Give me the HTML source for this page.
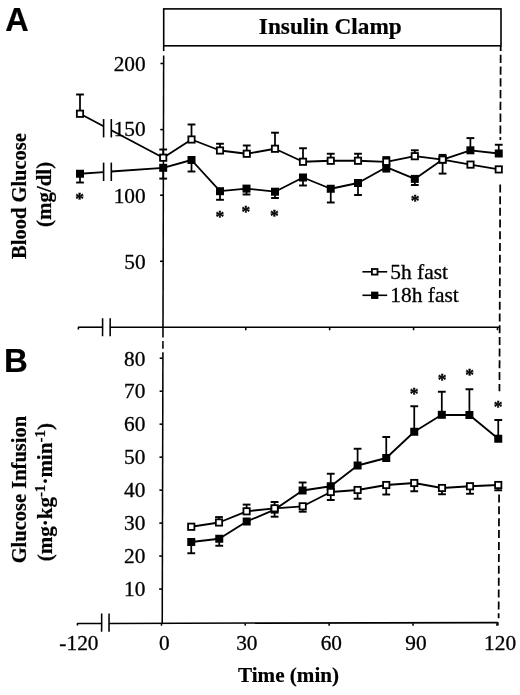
<!DOCTYPE html>
<html><head><meta charset="utf-8"><title>Insulin Clamp</title>
<style>
html,body{margin:0;padding:0;background:#fff;}
body{width:520px;height:695px;overflow:hidden;}
svg{display:block;}
</style></head><body>
<svg width="520" height="695" viewBox="0 0 520 695" stroke="#000" fill="none" stroke-linecap="butt">
<rect x="0" y="0" width="520" height="695" fill="#fff" stroke="none"/>
<rect x="163.7" y="8.9" width="337.3" height="36.9" fill="none" stroke-width="1.6"/>
<text transform="translate(330.3,33.9) scale(1.03,1)" font-size="22.6" text-anchor="middle" font-weight="bold" font-family='"Liberation Serif", serif' stroke="#000" stroke-width="0.2" fill="#000">Insulin Clamp</text>
<text transform="translate(5.3,31) scale(1,1)" font-size="32.5" text-anchor="start" font-weight="bold" font-family='"Liberation Sans", sans-serif' stroke="#000" stroke-width="0.2" fill="#000">A</text>
<text transform="translate(4.1,372.3) scale(1,1)" font-size="33" text-anchor="start" font-weight="bold" font-family='"Liberation Sans", sans-serif' stroke="#000" stroke-width="0.2" fill="#000">B</text>
<line x1="163.69" y1="46" x2="163.67" y2="51" stroke-width="1.55"/>
<line x1="163.66" y1="55.5" x2="162.98" y2="327.3" stroke-width="1.55"/>
<line x1="160.44" y1="63.5" x2="163.64" y2="63.5" stroke-width="1.55"/>
<text transform="translate(145.6,71.2) scale(1.04,1)" font-size="20.5" text-anchor="end" font-weight="normal" font-family='"Liberation Serif", serif' stroke="#000" stroke-width="0.3" fill="#000">200</text>
<line x1="160.28" y1="129.6" x2="163.48" y2="129.6" stroke-width="1.55"/>
<text transform="translate(145.6,136.3) scale(1.04,1)" font-size="20.5" text-anchor="end" font-weight="normal" font-family='"Liberation Serif", serif' stroke="#000" stroke-width="0.3" fill="#000">150</text>
<line x1="160.11" y1="195.2" x2="163.31" y2="195.2" stroke-width="1.55"/>
<text transform="translate(145.6,203.4) scale(1.04,1)" font-size="20.5" text-anchor="end" font-weight="normal" font-family='"Liberation Serif", serif' stroke="#000" stroke-width="0.3" fill="#000">100</text>
<line x1="159.95" y1="261.3" x2="163.15" y2="261.3" stroke-width="1.55"/>
<text transform="translate(145.6,268.8) scale(1.04,1)" font-size="20.5" text-anchor="end" font-weight="normal" font-family='"Liberation Serif", serif' stroke="#000" stroke-width="0.3" fill="#000">50</text>
<line x1="78.08" y1="327.2" x2="102.58" y2="327.2" stroke-width="1.55"/>
<line x1="110.18" y1="327.2" x2="499.18" y2="327.2" stroke-width="1.55"/>
<line x1="78.38" y1="327.2" x2="78.38" y2="329.5" stroke-width="1.55"/>
<line x1="102.6" y1="318.3" x2="102.56" y2="336.3" stroke-width="1.55"/>
<line x1="110.2" y1="318.3" x2="110.16" y2="336.3" stroke-width="1.55"/>
<line x1="245.78" y1="327.2" x2="245.77" y2="330.2" stroke-width="1.55"/>
<line x1="329.68" y1="327.2" x2="329.67" y2="330.2" stroke-width="1.55"/>
<line x1="413.58" y1="327.2" x2="413.57" y2="330.2" stroke-width="1.55"/>
<line x1="497.48" y1="327.2" x2="497.47" y2="330.2" stroke-width="1.55"/>
<line x1="162.98" y1="327.3" x2="162.96" y2="337.5" stroke-width="1.55"/>
<line x1="162.95" y1="341" x2="162.93" y2="348.7" stroke-width="1.55"/>
<line x1="162.92" y1="352.3" x2="162.24" y2="623.3" stroke-width="1.55"/>
<line x1="159.7" y1="358.2" x2="162.9" y2="358.2" stroke-width="1.55"/>
<text transform="translate(145.4,365.5) scale(1.04,1)" font-size="20.5" text-anchor="end" font-weight="normal" font-family='"Liberation Serif", serif' stroke="#000" stroke-width="0.3" fill="#000">80</text>
<line x1="159.62" y1="391.18" x2="162.82" y2="391.18" stroke-width="1.55"/>
<text transform="translate(145.4,398.48) scale(1.04,1)" font-size="20.5" text-anchor="end" font-weight="normal" font-family='"Liberation Serif", serif' stroke="#000" stroke-width="0.3" fill="#000">70</text>
<line x1="159.54" y1="424.16" x2="162.74" y2="424.16" stroke-width="1.55"/>
<text transform="translate(145.4,431.46) scale(1.04,1)" font-size="20.5" text-anchor="end" font-weight="normal" font-family='"Liberation Serif", serif' stroke="#000" stroke-width="0.3" fill="#000">60</text>
<line x1="159.46" y1="457.14" x2="162.66" y2="457.14" stroke-width="1.55"/>
<text transform="translate(145.4,464.44) scale(1.04,1)" font-size="20.5" text-anchor="end" font-weight="normal" font-family='"Liberation Serif", serif' stroke="#000" stroke-width="0.3" fill="#000">50</text>
<line x1="159.37" y1="490.12" x2="162.57" y2="490.12" stroke-width="1.55"/>
<text transform="translate(145.4,497.42) scale(1.04,1)" font-size="20.5" text-anchor="end" font-weight="normal" font-family='"Liberation Serif", serif' stroke="#000" stroke-width="0.3" fill="#000">40</text>
<line x1="159.29" y1="523.1" x2="162.49" y2="523.1" stroke-width="1.55"/>
<text transform="translate(145.4,530.4) scale(1.04,1)" font-size="20.5" text-anchor="end" font-weight="normal" font-family='"Liberation Serif", serif' stroke="#000" stroke-width="0.3" fill="#000">30</text>
<line x1="159.21" y1="556.08" x2="162.41" y2="556.08" stroke-width="1.55"/>
<text transform="translate(145.4,563.38) scale(1.04,1)" font-size="20.5" text-anchor="end" font-weight="normal" font-family='"Liberation Serif", serif' stroke="#000" stroke-width="0.3" fill="#000">20</text>
<line x1="159.13" y1="589.06" x2="162.33" y2="589.06" stroke-width="1.55"/>
<text transform="translate(145.4,596.36) scale(1.04,1)" font-size="20.5" text-anchor="end" font-weight="normal" font-family='"Liberation Serif", serif' stroke="#000" stroke-width="0.3" fill="#000">10</text>
<line x1="77.14" y1="623.5" x2="101.64" y2="623.4" stroke-width="1.55"/>
<line x1="109.04" y1="623.4" x2="497.84" y2="622.6" stroke-width="1.55"/>
<line x1="77.44" y1="623.2" x2="77.44" y2="625.5" stroke-width="1.55"/>
<line x1="101.67" y1="613.5" x2="101.62" y2="631.7" stroke-width="1.55"/>
<line x1="109.07" y1="613.5" x2="109.02" y2="631.7" stroke-width="1.55"/>
<line x1="161.49" y1="623.2" x2="161.49" y2="625.7" stroke-width="1.55"/>
<line x1="245.24" y1="623.2" x2="245.24" y2="625.7" stroke-width="1.55"/>
<line x1="329.14" y1="623.2" x2="329.14" y2="625.7" stroke-width="1.55"/>
<line x1="413.04" y1="623.2" x2="413.04" y2="625.7" stroke-width="1.55"/>
<line x1="496.94" y1="623.2" x2="496.94" y2="625.7" stroke-width="1.55"/>
<text transform="translate(78.9,650.3) scale(1.04,1)" font-size="20.5" text-anchor="middle" font-weight="normal" font-family='"Liberation Serif", serif' stroke="#000" stroke-width="0.3" fill="#000">-120</text>
<text transform="translate(164.3,650.3) scale(1.04,1)" font-size="20.5" text-anchor="middle" font-weight="normal" font-family='"Liberation Serif", serif' stroke="#000" stroke-width="0.3" fill="#000">0</text>
<text transform="translate(246.8,650.3) scale(1.04,1)" font-size="20.5" text-anchor="middle" font-weight="normal" font-family='"Liberation Serif", serif' stroke="#000" stroke-width="0.3" fill="#000">30</text>
<text transform="translate(331.3,650.3) scale(1.04,1)" font-size="20.5" text-anchor="middle" font-weight="normal" font-family='"Liberation Serif", serif' stroke="#000" stroke-width="0.3" fill="#000">60</text>
<text transform="translate(415.9,650.3) scale(1.04,1)" font-size="20.5" text-anchor="middle" font-weight="normal" font-family='"Liberation Serif", serif' stroke="#000" stroke-width="0.3" fill="#000">90</text>
<text transform="translate(500.1,650.3) scale(1.04,1)" font-size="20.5" text-anchor="middle" font-weight="normal" font-family='"Liberation Serif", serif' stroke="#000" stroke-width="0.3" fill="#000">120</text>
<text transform="translate(288.5,682) scale(1.03,1)" font-size="20.5" text-anchor="middle" font-weight="bold" font-family='"Liberation Serif", serif' stroke="#000" stroke-width="0.2" fill="#000">Time (min)</text>
<text transform="translate(26.2,196) rotate(-90)" font-size="20.5" text-anchor="middle" font-weight="bold" font-family='"Liberation Serif", serif' stroke="#000" stroke-width="0.2" fill="#000">Blood Glucose</text>
<text transform="translate(51.3,194.4) rotate(-90)" font-size="20.9" text-anchor="middle" font-weight="bold" font-family='"Liberation Serif", serif' stroke="#000" stroke-width="0.2" fill="#000">(mg/dl)</text>
<text transform="translate(25.7,489.6) rotate(-90)" font-size="20.5" text-anchor="middle" font-weight="bold" font-family='"Liberation Serif", serif' stroke="#000" stroke-width="0.2" fill="#000">Glucose Infusion</text>
<text transform="translate(52.3,492.2) rotate(-90)" font-size="21" text-anchor="middle" font-weight="bold" font-family='"Liberation Serif", serif' stroke="#000" stroke-width="0.2" fill="#000">(mg·kg<tspan font-size="15" dy="-7.3">-1</tspan><tspan dy="7.3">·min</tspan><tspan font-size="15" dy="-7.3">-1</tspan><tspan dy="7.3">)</tspan></text>
<line x1="500.68" y1="46" x2="500.67" y2="51" stroke-width="1.75"/>
<line x1="500.65" y1="54.7" x2="500.62" y2="63" stroke-width="1.75"/>
<line x1="500.61" y1="66.48" x2="500.58" y2="74.78" stroke-width="1.75"/>
<line x1="500.57" y1="78.26" x2="500.54" y2="86.56" stroke-width="1.75"/>
<line x1="500.53" y1="90.04" x2="500.5" y2="98.34" stroke-width="1.75"/>
<line x1="500.48" y1="101.82" x2="500.45" y2="110.12" stroke-width="1.75"/>
<line x1="500.44" y1="113.6" x2="500.41" y2="121.9" stroke-width="1.75"/>
<line x1="500.4" y1="125.38" x2="500.37" y2="133.68" stroke-width="1.75"/>
<line x1="500.36" y1="136.9" x2="500.35" y2="140" stroke-width="1.75"/>
<line x1="500.19" y1="184.4" x2="500.16" y2="192.4" stroke-width="1.75"/>
<line x1="500.14" y1="196.13" x2="500.12" y2="204.13" stroke-width="1.75"/>
<line x1="500.1" y1="207.86" x2="500.07" y2="215.86" stroke-width="1.75"/>
<line x1="500.06" y1="219.59" x2="500.03" y2="227.59" stroke-width="1.75"/>
<line x1="500.02" y1="231.32" x2="499.99" y2="239.32" stroke-width="1.75"/>
<line x1="499.98" y1="243.05" x2="499.95" y2="251.05" stroke-width="1.75"/>
<line x1="499.93" y1="254.78" x2="499.9" y2="262.78" stroke-width="1.75"/>
<line x1="499.89" y1="266.51" x2="499.86" y2="274.51" stroke-width="1.75"/>
<line x1="499.85" y1="278.24" x2="499.82" y2="286.24" stroke-width="1.75"/>
<line x1="499.81" y1="289.97" x2="499.78" y2="297.97" stroke-width="1.75"/>
<line x1="499.76" y1="301.7" x2="499.74" y2="309.7" stroke-width="1.75"/>
<line x1="499.72" y1="313.43" x2="499.69" y2="321.43" stroke-width="1.75"/>
<line x1="499.68" y1="325.16" x2="499.65" y2="333.16" stroke-width="1.75"/>
<line x1="499.64" y1="336.89" x2="499.61" y2="344.89" stroke-width="1.75"/>
<line x1="499.59" y1="348.62" x2="499.57" y2="356.62" stroke-width="1.75"/>
<line x1="499.55" y1="360.35" x2="499.52" y2="368.35" stroke-width="1.75"/>
<line x1="499.51" y1="372.08" x2="499.48" y2="380.08" stroke-width="1.75"/>
<line x1="499.47" y1="383.9" x2="499.44" y2="391.3" stroke-width="1.75"/>
<line x1="499.07" y1="494.4" x2="499.04" y2="502.4" stroke-width="1.75"/>
<line x1="499.03" y1="506.3" x2="499" y2="514.3" stroke-width="1.75"/>
<line x1="498.98" y1="518.2" x2="498.96" y2="526.2" stroke-width="1.75"/>
<line x1="498.94" y1="530.1" x2="498.91" y2="538.1" stroke-width="1.75"/>
<line x1="498.9" y1="542" x2="498.87" y2="550" stroke-width="1.75"/>
<line x1="498.86" y1="553.9" x2="498.83" y2="561.9" stroke-width="1.75"/>
<line x1="498.81" y1="565.8" x2="498.78" y2="573.8" stroke-width="1.75"/>
<line x1="498.77" y1="577.7" x2="498.74" y2="585.7" stroke-width="1.75"/>
<line x1="498.73" y1="589.6" x2="498.7" y2="597.6" stroke-width="1.75"/>
<line x1="498.68" y1="601.5" x2="498.66" y2="609.5" stroke-width="1.75"/>
<line x1="498.64" y1="613.3" x2="498.62" y2="618.3" stroke-width="1.75"/>
<line x1="498.01" y1="622.3" x2="498.01" y2="625.5" stroke-width="1.5"/>
<line x1="80" y1="173.75" x2="80" y2="182.5" stroke-width="1.75"/>
<line x1="76.1" y1="182.5" x2="83.9" y2="182.5" stroke-width="1.95"/>
<line x1="163.2" y1="167.8" x2="163.2" y2="178.6" stroke-width="1.75"/>
<line x1="159.3" y1="178.6" x2="167.1" y2="178.6" stroke-width="1.95"/>
<line x1="191.5" y1="160" x2="191.5" y2="171.5" stroke-width="1.75"/>
<line x1="187.6" y1="171.5" x2="195.4" y2="171.5" stroke-width="1.95"/>
<line x1="220" y1="191.2" x2="220" y2="199.8" stroke-width="1.75"/>
<line x1="216.1" y1="199.8" x2="223.9" y2="199.8" stroke-width="1.95"/>
<line x1="246.5" y1="188.6" x2="246.5" y2="194.5" stroke-width="1.75"/>
<line x1="242.6" y1="194.5" x2="250.4" y2="194.5" stroke-width="1.95"/>
<line x1="275" y1="191.7" x2="275" y2="198" stroke-width="1.75"/>
<line x1="271.1" y1="198" x2="278.9" y2="198" stroke-width="1.95"/>
<line x1="303" y1="177.5" x2="303" y2="185.5" stroke-width="1.75"/>
<line x1="299.1" y1="185.5" x2="306.9" y2="185.5" stroke-width="1.95"/>
<line x1="330.75" y1="188.75" x2="330.75" y2="202.5" stroke-width="1.75"/>
<line x1="326.85" y1="202.5" x2="334.65" y2="202.5" stroke-width="1.95"/>
<line x1="358" y1="183" x2="358" y2="195" stroke-width="1.75"/>
<line x1="354.1" y1="195" x2="361.9" y2="195" stroke-width="1.95"/>
<line x1="386.3" y1="167.2" x2="386.3" y2="171.6" stroke-width="1.75"/>
<line x1="382.4" y1="171.6" x2="390.2" y2="171.6" stroke-width="1.95"/>
<line x1="414.8" y1="178.9" x2="414.8" y2="185" stroke-width="1.75"/>
<line x1="410.9" y1="185" x2="418.7" y2="185" stroke-width="1.95"/>
<line x1="442.6" y1="159.6" x2="442.6" y2="173.6" stroke-width="1.75"/>
<line x1="438.7" y1="173.6" x2="446.5" y2="173.6" stroke-width="1.95"/>
<line x1="470.4" y1="150.3" x2="470.4" y2="138.1" stroke-width="1.75"/>
<line x1="466.5" y1="138.1" x2="474.3" y2="138.1" stroke-width="1.95"/>
<line x1="498.75" y1="153.5" x2="498.75" y2="144.75" stroke-width="1.75"/>
<line x1="494.85" y1="144.75" x2="502.65" y2="144.75" stroke-width="1.95"/>
<line x1="80" y1="113.75" x2="80" y2="94.5" stroke-width="1.75"/>
<line x1="76.1" y1="94.5" x2="83.9" y2="94.5" stroke-width="1.95"/>
<line x1="163.2" y1="157.7" x2="163.2" y2="149.5" stroke-width="1.75"/>
<line x1="159.3" y1="149.5" x2="167.1" y2="149.5" stroke-width="1.95"/>
<line x1="191.5" y1="139.5" x2="191.5" y2="124.5" stroke-width="1.75"/>
<line x1="187.6" y1="124.5" x2="195.4" y2="124.5" stroke-width="1.95"/>
<line x1="220" y1="150.5" x2="220" y2="143.75" stroke-width="1.75"/>
<line x1="216.1" y1="143.75" x2="223.9" y2="143.75" stroke-width="1.95"/>
<line x1="246.75" y1="153.75" x2="246.75" y2="145.5" stroke-width="1.75"/>
<line x1="242.85" y1="145.5" x2="250.65" y2="145.5" stroke-width="1.95"/>
<line x1="275" y1="148.75" x2="275" y2="132.7" stroke-width="1.75"/>
<line x1="271.1" y1="132.7" x2="278.9" y2="132.7" stroke-width="1.95"/>
<line x1="303" y1="161.75" x2="303" y2="148.25" stroke-width="1.75"/>
<line x1="299.1" y1="148.25" x2="306.9" y2="148.25" stroke-width="1.95"/>
<line x1="330.75" y1="160.75" x2="330.75" y2="153.75" stroke-width="1.75"/>
<line x1="326.85" y1="153.75" x2="334.65" y2="153.75" stroke-width="1.95"/>
<line x1="358" y1="160.75" x2="358" y2="153.75" stroke-width="1.75"/>
<line x1="354.1" y1="153.75" x2="361.9" y2="153.75" stroke-width="1.95"/>
<line x1="386.3" y1="161.8" x2="386.3" y2="157.1" stroke-width="1.75"/>
<line x1="382.4" y1="157.1" x2="390.2" y2="157.1" stroke-width="1.95"/>
<line x1="414.8" y1="156.2" x2="414.8" y2="150.3" stroke-width="1.75"/>
<line x1="410.9" y1="150.3" x2="418.7" y2="150.3" stroke-width="1.95"/>
<line x1="442.6" y1="159.6" x2="442.6" y2="154.9" stroke-width="1.75"/>
<line x1="438.7" y1="154.9" x2="446.5" y2="154.9" stroke-width="1.95"/>
<line x1="80" y1="173.75" x2="103.6" y2="172.06" stroke-width="1.85"/>
<line x1="111.3" y1="171.51" x2="163.2" y2="167.8" stroke-width="1.85"/>
<line x1="103.6" y1="162.59" x2="103.6" y2="180.99" stroke-width="1.6"/>
<line x1="111.3" y1="162.59" x2="111.3" y2="180.99" stroke-width="1.6"/>
<polyline points="163.2,167.8 191.5,160 220,191.2 246.5,188.6 275,191.7 303,177.5 330.75,188.75 358,183 386.3,167.2 414.8,178.9 442.6,159.6 470.4,150.3 498.75,153.5" fill="none" stroke-width="1.85" stroke-linejoin="round"/>
<rect x="76" y="169.75" width="8" height="8" fill="#000" stroke="none"/>
<rect x="159.2" y="163.8" width="8" height="8" fill="#000" stroke="none"/>
<rect x="187.5" y="156" width="8" height="8" fill="#000" stroke="none"/>
<rect x="216" y="187.2" width="8" height="8" fill="#000" stroke="none"/>
<rect x="242.5" y="184.6" width="8" height="8" fill="#000" stroke="none"/>
<rect x="271" y="187.7" width="8" height="8" fill="#000" stroke="none"/>
<rect x="299" y="173.5" width="8" height="8" fill="#000" stroke="none"/>
<rect x="326.75" y="184.75" width="8" height="8" fill="#000" stroke="none"/>
<rect x="354" y="179" width="8" height="8" fill="#000" stroke="none"/>
<rect x="382.3" y="163.2" width="8" height="8" fill="#000" stroke="none"/>
<rect x="410.8" y="174.9" width="8" height="8" fill="#000" stroke="none"/>
<rect x="438.6" y="155.6" width="8" height="8" fill="#000" stroke="none"/>
<rect x="466.4" y="146.3" width="8" height="8" fill="#000" stroke="none"/>
<rect x="494.75" y="149.5" width="8" height="8" fill="#000" stroke="none"/>
<line x1="80" y1="113.75" x2="103.6" y2="126.22" stroke-width="1.85"/>
<line x1="111.3" y1="130.28" x2="163.2" y2="157.7" stroke-width="1.85"/>
<line x1="103.6" y1="119.05" x2="103.6" y2="137.45" stroke-width="1.6"/>
<line x1="111.3" y1="119.05" x2="111.3" y2="137.45" stroke-width="1.6"/>
<polyline points="163.2,157.7 191.5,139.5 220,150.5 246.75,153.75 275,148.75 303,161.75 330.75,160.75 358,160.75 386.3,161.8 414.8,156.2 442.6,159.6 470.5,164.6 498.75,169.4" fill="none" stroke-width="1.85" stroke-linejoin="round"/>
<rect x="76.85" y="110.6" width="6.3" height="6.3" fill="#fff" stroke-width="1.8"/>
<rect x="160.05" y="154.55" width="6.3" height="6.3" fill="#fff" stroke-width="1.8"/>
<rect x="188.35" y="136.35" width="6.3" height="6.3" fill="#fff" stroke-width="1.8"/>
<rect x="216.85" y="147.35" width="6.3" height="6.3" fill="#fff" stroke-width="1.8"/>
<rect x="243.6" y="150.6" width="6.3" height="6.3" fill="#fff" stroke-width="1.8"/>
<rect x="271.85" y="145.6" width="6.3" height="6.3" fill="#fff" stroke-width="1.8"/>
<rect x="299.85" y="158.6" width="6.3" height="6.3" fill="#fff" stroke-width="1.8"/>
<rect x="327.6" y="157.6" width="6.3" height="6.3" fill="#fff" stroke-width="1.8"/>
<rect x="354.85" y="157.6" width="6.3" height="6.3" fill="#fff" stroke-width="1.8"/>
<rect x="383.15" y="158.65" width="6.3" height="6.3" fill="#fff" stroke-width="1.8"/>
<rect x="411.65" y="153.05" width="6.3" height="6.3" fill="#fff" stroke-width="1.8"/>
<rect x="439.45" y="156.45" width="6.3" height="6.3" fill="#fff" stroke-width="1.8"/>
<rect x="467.35" y="161.45" width="6.3" height="6.3" fill="#fff" stroke-width="1.8"/>
<rect x="495.6" y="166.25" width="6.3" height="6.3" fill="#fff" stroke-width="1.8"/>
<text transform="translate(79.5,203.7) scale(1,1)" font-size="17.5" text-anchor="middle" font-weight="bold" font-family='"Liberation Serif", serif' stroke="#000" stroke-width="0.4" fill="#000">*</text>
<text transform="translate(219.75,222) scale(1,1)" font-size="17.5" text-anchor="middle" font-weight="bold" font-family='"Liberation Serif", serif' stroke="#000" stroke-width="0.4" fill="#000">*</text>
<text transform="translate(245.9,217.3) scale(1,1)" font-size="17.5" text-anchor="middle" font-weight="bold" font-family='"Liberation Serif", serif' stroke="#000" stroke-width="0.4" fill="#000">*</text>
<text transform="translate(274.3,220.5) scale(1,1)" font-size="17.5" text-anchor="middle" font-weight="bold" font-family='"Liberation Serif", serif' stroke="#000" stroke-width="0.4" fill="#000">*</text>
<text transform="translate(415,205.7) scale(1,1)" font-size="17.5" text-anchor="middle" font-weight="bold" font-family='"Liberation Serif", serif' stroke="#000" stroke-width="0.4" fill="#000">*</text>
<line x1="362.4" y1="271.8" x2="387.2" y2="271.8" stroke-width="1.6"/>
<rect x="371.9" y="269" width="5.6" height="5.6" fill="#fff" stroke-width="1.8"/>
<line x1="362.4" y1="295.3" x2="387.2" y2="295.3" stroke-width="1.6"/>
<rect x="371.05" y="291.65" width="7.3" height="7.3" fill="#000" stroke="none"/>
<text transform="translate(390.3,278.6) scale(1.04,1)" font-size="20.6" text-anchor="start" font-weight="normal" font-family='"Liberation Serif", serif' stroke="#000" stroke-width="0.3" fill="#000">5h fast</text>
<text transform="translate(390.3,302.2) scale(1.04,1)" font-size="20.6" text-anchor="start" font-weight="normal" font-family='"Liberation Serif", serif' stroke="#000" stroke-width="0.3" fill="#000">18h fast</text>
<line x1="191.25" y1="542" x2="191.25" y2="553.25" stroke-width="1.75"/>
<line x1="187.35" y1="553.25" x2="195.15" y2="553.25" stroke-width="1.95"/>
<line x1="219.25" y1="538.75" x2="219.25" y2="545.75" stroke-width="1.75"/>
<line x1="215.35" y1="545.75" x2="223.15" y2="545.75" stroke-width="1.95"/>
<line x1="274.6" y1="509.6" x2="274.6" y2="516.7" stroke-width="1.75"/>
<line x1="270.7" y1="516.7" x2="278.5" y2="516.7" stroke-width="1.95"/>
<line x1="302.6" y1="490.5" x2="302.6" y2="482.5" stroke-width="1.75"/>
<line x1="298.7" y1="482.5" x2="306.5" y2="482.5" stroke-width="1.95"/>
<line x1="330.75" y1="486.25" x2="330.75" y2="473.75" stroke-width="1.75"/>
<line x1="326.85" y1="473.75" x2="334.65" y2="473.75" stroke-width="1.95"/>
<line x1="357.6" y1="465.5" x2="357.6" y2="448.75" stroke-width="1.75"/>
<line x1="353.7" y1="448.75" x2="361.5" y2="448.75" stroke-width="1.95"/>
<line x1="386.25" y1="458" x2="386.25" y2="437" stroke-width="1.75"/>
<line x1="382.35" y1="437" x2="390.15" y2="437" stroke-width="1.95"/>
<line x1="414.25" y1="431.75" x2="414.25" y2="406.25" stroke-width="1.75"/>
<line x1="410.35" y1="406.25" x2="418.15" y2="406.25" stroke-width="1.95"/>
<line x1="441.8" y1="414.8" x2="441.8" y2="391.75" stroke-width="1.75"/>
<line x1="437.9" y1="391.75" x2="445.7" y2="391.75" stroke-width="1.95"/>
<line x1="469.4" y1="415" x2="469.4" y2="389.25" stroke-width="1.75"/>
<line x1="465.5" y1="389.25" x2="473.3" y2="389.25" stroke-width="1.95"/>
<line x1="498.25" y1="438.75" x2="498.25" y2="420" stroke-width="1.75"/>
<line x1="494.35" y1="420" x2="502.15" y2="420" stroke-width="1.95"/>
<line x1="219" y1="522.5" x2="219" y2="517.1" stroke-width="1.75"/>
<line x1="215.1" y1="517.1" x2="222.9" y2="517.1" stroke-width="1.95"/>
<line x1="246.6" y1="511.3" x2="246.6" y2="504.6" stroke-width="1.75"/>
<line x1="242.7" y1="504.6" x2="250.5" y2="504.6" stroke-width="1.95"/>
<line x1="274.6" y1="508.3" x2="274.6" y2="502" stroke-width="1.75"/>
<line x1="270.7" y1="502" x2="278.5" y2="502" stroke-width="1.95"/>
<line x1="302.7" y1="506.3" x2="302.7" y2="511.7" stroke-width="1.75"/>
<line x1="298.8" y1="511.7" x2="306.6" y2="511.7" stroke-width="1.95"/>
<line x1="330.75" y1="492" x2="330.75" y2="500" stroke-width="1.75"/>
<line x1="326.85" y1="500" x2="334.65" y2="500" stroke-width="1.95"/>
<line x1="357.6" y1="490" x2="357.6" y2="498.75" stroke-width="1.75"/>
<line x1="353.7" y1="498.75" x2="361.5" y2="498.75" stroke-width="1.95"/>
<line x1="386.25" y1="485" x2="386.25" y2="494.5" stroke-width="1.75"/>
<line x1="382.35" y1="494.5" x2="390.15" y2="494.5" stroke-width="1.95"/>
<line x1="414.25" y1="483" x2="414.25" y2="491.25" stroke-width="1.75"/>
<line x1="410.35" y1="491.25" x2="418.15" y2="491.25" stroke-width="1.95"/>
<line x1="442" y1="488" x2="442" y2="494.25" stroke-width="1.75"/>
<line x1="438.1" y1="494.25" x2="445.9" y2="494.25" stroke-width="1.95"/>
<line x1="470" y1="486.25" x2="470" y2="493.75" stroke-width="1.75"/>
<line x1="466.1" y1="493.75" x2="473.9" y2="493.75" stroke-width="1.95"/>
<line x1="498.25" y1="485" x2="498.25" y2="490.3" stroke-width="1.75"/>
<line x1="494.35" y1="490.3" x2="502.15" y2="490.3" stroke-width="1.95"/>
<polyline points="191.25,542 219.25,538.75 246.7,521.5 274.6,509.6 302.6,490.5 330.75,486.25 357.6,465.5 386.25,458 414.25,431.75 441.8,414.8 469.4,415 498.25,438.75" fill="none" stroke-width="1.85" stroke-linejoin="round"/>
<rect x="187.25" y="538" width="8" height="8" fill="#000" stroke="none"/>
<rect x="215.25" y="534.75" width="8" height="8" fill="#000" stroke="none"/>
<rect x="242.7" y="517.5" width="8" height="8" fill="#000" stroke="none"/>
<rect x="270.6" y="505.6" width="8" height="8" fill="#000" stroke="none"/>
<rect x="298.6" y="486.5" width="8" height="8" fill="#000" stroke="none"/>
<rect x="326.75" y="482.25" width="8" height="8" fill="#000" stroke="none"/>
<rect x="353.6" y="461.5" width="8" height="8" fill="#000" stroke="none"/>
<rect x="382.25" y="454" width="8" height="8" fill="#000" stroke="none"/>
<rect x="410.25" y="427.75" width="8" height="8" fill="#000" stroke="none"/>
<rect x="437.8" y="410.8" width="8" height="8" fill="#000" stroke="none"/>
<rect x="465.4" y="411" width="8" height="8" fill="#000" stroke="none"/>
<rect x="494.25" y="434.75" width="8" height="8" fill="#000" stroke="none"/>
<polyline points="191.25,526.75 219,522.5 246.6,511.3 274.6,508.3 302.7,506.3 330.75,492 357.6,490 386.25,485 414.25,483 442,488 470,486.25 498.25,485" fill="none" stroke-width="1.85" stroke-linejoin="round"/>
<rect x="188.1" y="523.6" width="6.3" height="6.3" fill="#fff" stroke-width="1.8"/>
<rect x="215.85" y="519.35" width="6.3" height="6.3" fill="#fff" stroke-width="1.8"/>
<rect x="243.45" y="508.15" width="6.3" height="6.3" fill="#fff" stroke-width="1.8"/>
<rect x="271.45" y="505.15" width="6.3" height="6.3" fill="#fff" stroke-width="1.8"/>
<rect x="299.55" y="503.15" width="6.3" height="6.3" fill="#fff" stroke-width="1.8"/>
<rect x="327.6" y="488.85" width="6.3" height="6.3" fill="#fff" stroke-width="1.8"/>
<rect x="354.45" y="486.85" width="6.3" height="6.3" fill="#fff" stroke-width="1.8"/>
<rect x="383.1" y="481.85" width="6.3" height="6.3" fill="#fff" stroke-width="1.8"/>
<rect x="411.1" y="479.85" width="6.3" height="6.3" fill="#fff" stroke-width="1.8"/>
<rect x="438.85" y="484.85" width="6.3" height="6.3" fill="#fff" stroke-width="1.8"/>
<rect x="466.85" y="483.1" width="6.3" height="6.3" fill="#fff" stroke-width="1.8"/>
<rect x="495.1" y="481.85" width="6.3" height="6.3" fill="#fff" stroke-width="1.8"/>
<text transform="translate(414,398.7) scale(1,1)" font-size="17.5" text-anchor="middle" font-weight="bold" font-family='"Liberation Serif", serif' stroke="#000" stroke-width="0.4" fill="#000">*</text>
<text transform="translate(442,385.2) scale(1,1)" font-size="17.5" text-anchor="middle" font-weight="bold" font-family='"Liberation Serif", serif' stroke="#000" stroke-width="0.4" fill="#000">*</text>
<text transform="translate(469.6,380.2) scale(1,1)" font-size="17.5" text-anchor="middle" font-weight="bold" font-family='"Liberation Serif", serif' stroke="#000" stroke-width="0.4" fill="#000">*</text>
<text transform="translate(498.2,412.2) scale(1,1)" font-size="17.5" text-anchor="middle" font-weight="bold" font-family='"Liberation Serif", serif' stroke="#000" stroke-width="0.4" fill="#000">*</text>
</svg>
</body></html>
